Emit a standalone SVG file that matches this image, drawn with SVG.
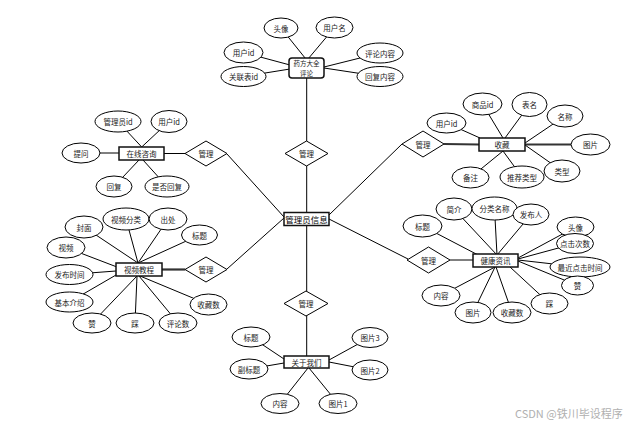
<svg xmlns="http://www.w3.org/2000/svg" width="636" height="427" viewBox="0 0 636 427">
<style>
.a{fill:#fff;stroke:#000;stroke-width:1}
.e{fill:#fff;stroke:#111;stroke-width:1.5}
.d{fill:#fff;stroke:#000;stroke-width:1}
.l{stroke:#000;stroke-width:1;fill:none}
.t{stroke:#333;stroke-width:2.2;fill:none}
text{font-family:"Noto Sans CJK SC","Noto Sans",sans-serif;font-size:7.5px;fill:#222;text-anchor:middle;dominant-baseline:central}
.big{font-size:8.5px;fill:#000}
.sm{font-size:6.5px}
.wm{font-size:11px;fill:#b0b0b0;text-anchor:start}
</style>
<rect width="636" height="427" fill="#fff"/>
<g id="connectors">
<line class="l" x1="306.7" y1="77" x2="306.7" y2="213"/>
<line class="l" x1="306.7" y1="225" x2="306.7" y2="356"/>
<line class="l" x1="227" y1="154" x2="284" y2="217"/>
<line class="l" x1="227" y1="269" x2="284" y2="218"/>
<line class="l" x1="329" y1="215" x2="402" y2="144"/>
<line class="l" x1="329" y1="219" x2="408" y2="259"/>
<line class="l" x1="281" y1="28" x2="306.7" y2="60"/>
<line class="l" x1="334.5" y1="27.5" x2="308" y2="59"/>
<line class="l" x1="243.5" y1="52.5" x2="290" y2="65"/>
<line class="l" x1="243.5" y1="76.5" x2="290" y2="69"/>
<line class="l" x1="380" y1="53" x2="324" y2="67"/>
<line class="l" x1="380" y1="76.5" x2="324" y2="68"/>
<line class="l" x1="164" y1="153.5" x2="185" y2="153.5"/>
<line class="l" x1="118" y1="121.5" x2="141.7" y2="147"/>
<line class="l" x1="169" y1="121.5" x2="141.7" y2="147"/>
<line class="l" x1="81" y1="153" x2="119" y2="153"/>
<line class="l" x1="114" y1="186.5" x2="139" y2="160"/>
<line class="l" x1="167" y1="186.5" x2="143" y2="160"/>
<line class="t" x1="444" y1="144" x2="479" y2="144.5"/>
<line class="l" x1="482.5" y1="104" x2="503" y2="138"/>
<line class="l" x1="529.5" y1="104.5" x2="505" y2="138"/>
<line class="l" x1="446.5" y1="123" x2="480" y2="138"/>
<line class="l" x1="565" y1="116" x2="525" y2="143"/>
<line class="t" x1="590.5" y1="144.5" x2="525" y2="144.5"/>
<line class="l" x1="562" y1="171" x2="525" y2="145"/>
<line class="l" x1="470.5" y1="177.5" x2="503" y2="151"/>
<line class="l" x1="522" y1="177" x2="503" y2="151"/>
<line class="t" x1="162" y1="269.5" x2="185" y2="269.5"/>
<line class="l" x1="84" y1="227" x2="138" y2="263"/>
<line class="l" x1="126" y1="219" x2="138" y2="263"/>
<line class="l" x1="168" y1="219" x2="138" y2="263"/>
<line class="l" x1="199.5" y1="235" x2="138" y2="263"/>
<line class="l" x1="66" y1="247.5" x2="117" y2="267"/>
<line class="l" x1="69.5" y1="274.5" x2="116" y2="271"/>
<line class="l" x1="69.5" y1="302" x2="116" y2="275"/>
<line class="l" x1="92" y1="323" x2="137" y2="276"/>
<line class="l" x1="135" y1="323" x2="137" y2="276"/>
<line class="l" x1="178" y1="323" x2="139" y2="276"/>
<line class="l" x1="208.5" y1="304.5" x2="140" y2="276"/>
<line class="l" x1="450" y1="260" x2="473" y2="260"/>
<line class="l" x1="454" y1="209" x2="497" y2="255"/>
<line class="l" x1="494.5" y1="208.5" x2="497" y2="255"/>
<line class="l" x1="531" y1="214.5" x2="497" y2="255"/>
<line class="l" x1="422.5" y1="226" x2="480" y2="256"/>
<line class="l" x1="575.5" y1="227" x2="518" y2="258"/>
<line class="l" x1="575" y1="243.5" x2="518" y2="259"/>
<line class="l" x1="580" y1="267" x2="518" y2="260"/>
<line class="l" x1="577.5" y1="285.5" x2="518" y2="261"/>
<line class="l" x1="549.5" y1="303.5" x2="510" y2="267"/>
<line class="l" x1="441" y1="295.5" x2="495" y2="267"/>
<line class="l" x1="473" y1="312.5" x2="495" y2="267"/>
<line class="l" x1="512" y1="312.5" x2="496" y2="267"/>
<line class="l" x1="251" y1="337" x2="284" y2="359"/>
<line class="l" x1="249" y1="369" x2="284" y2="363"/>
<line class="l" x1="370" y1="337.5" x2="329" y2="360"/>
<line class="l" x1="370" y1="370" x2="329" y2="362"/>
<line class="l" x1="280" y1="403.5" x2="308" y2="368"/>
<line class="l" x1="338" y1="403.5" x2="309" y2="368"/>
</g>

<g id="admin"><rect class="e" x="284" y="212.5" width="45" height="13"/><text class="big" x="306.5" y="219">管理员信息</text></g>

<g id="rel-comment"><polygon class="d" points="306.5,141 328,153.5 306.5,166 285,153.5"/><text x="306.5" y="153.5">管理</text></g>
<g id="rel-consult"><polygon class="d" points="206,141 227,153.5 206,166 185,153.5"/><text x="206" y="153.5">管理</text></g>
<g id="rel-collect"><polygon class="d" points="423,131 444,144 423,157 402,144"/><text x="423" y="144">管理</text></g>
<g id="rel-video"><polygon class="d" points="206,257 227,269.5 206,282 185,269.5"/><text x="206" y="269.5">管理</text></g>
<g id="rel-health"><polygon class="d" points="428.5,247 450,260 428.5,273 407,260"/><text x="428.5" y="260">管理</text></g>
<g id="rel-about"><polygon class="d" points="306,291 328,303.5 306,316 284,303.5"/><text x="306" y="303.5">管理</text></g>

<g id="comment">
<rect class="e" x="289" y="58" width="35" height="20" rx="3"/>
<text class="sm" x="306.5" y="63">药方大全</text><text class="sm" x="306.5" y="73">评论</text>
<ellipse class="a" cx="281" cy="28" rx="17" ry="10"/><text x="281" y="28">头像</text>
<ellipse class="a" cx="334.5" cy="27.5" rx="18.5" ry="10.5"/><text x="334.5" y="27.5">用户名</text>
<ellipse class="a" cx="243.5" cy="52.5" rx="19.5" ry="10.5"/><text x="243.5" y="52.5">用户id</text>
<ellipse class="a" cx="243.5" cy="76.5" rx="22.5" ry="10"/><text x="243.5" y="76.5">关联表id</text>
<ellipse class="a" cx="380" cy="53" rx="23" ry="10"/><text x="380" y="53">评论内容</text>
<ellipse class="a" cx="380" cy="76.5" rx="23" ry="10"/><text x="380" y="76.5">回复内容</text>
</g>

<g id="consult">
<rect class="e" x="119" y="147" width="45" height="13"/><text x="141.5" y="153.5">在线咨询</text>
<ellipse class="a" cx="118" cy="121.5" rx="23" ry="10.5"/><text x="118" y="121.5">管理员id</text>
<ellipse class="a" cx="169" cy="121.5" rx="18" ry="11"/><text x="169" y="121.5">用户id</text>
<ellipse class="a" cx="81" cy="153" rx="19" ry="10"/><text x="81" y="153">提问</text>
<ellipse class="a" cx="114" cy="186.5" rx="18" ry="10.5"/><text x="114" y="186.5">回复</text>
<ellipse class="a" cx="167" cy="186.5" rx="22" ry="10.5"/><text x="167" y="186.5">是否回复</text>
</g>

<g id="collect">
<rect class="e" x="479" y="138" width="46" height="13"/><text x="502" y="144.5">收藏</text>
<ellipse class="a" cx="482.5" cy="104" rx="19.5" ry="11"/><text x="482.5" y="104">商品id</text>
<ellipse class="a" cx="529.5" cy="104.5" rx="17.5" ry="12"/><text x="529.5" y="104.5">表名</text>
<ellipse class="a" cx="565" cy="116" rx="18" ry="11"/><text x="565" y="116">名称</text>
<ellipse class="a" cx="446.5" cy="123" rx="19.5" ry="10"/><text x="446.5" y="123">用户id</text>
<ellipse class="a" cx="590.5" cy="144.5" rx="19.5" ry="10.5"/><text x="590.5" y="144.5">图片</text>
<ellipse class="a" cx="562" cy="171" rx="18" ry="11"/><text x="562" y="171">类型</text>
<ellipse class="a" cx="470.5" cy="177.5" rx="18.5" ry="10.5"/><text x="470.5" y="177.5">备注</text>
<ellipse class="a" cx="522" cy="177" rx="22" ry="11"/><text x="522" y="177">推荐类型</text>
</g>

<g id="video">
<rect class="e" x="116" y="263" width="46" height="13"/><text x="139" y="269.5">视频教程</text>
<ellipse class="a" cx="84" cy="227" rx="19" ry="11"/><text x="84" y="227">封面</text>
<ellipse class="a" cx="126" cy="219" rx="23" ry="11"/><text x="126" y="219">视频分类</text>
<ellipse class="a" cx="168" cy="219" rx="19" ry="11"/><text x="168" y="219">出处</text>
<ellipse class="a" cx="199.5" cy="235" rx="18" ry="10"/><text x="199.5" y="235">标题</text>
<ellipse class="a" cx="66" cy="247.5" rx="19" ry="10.5"/><text x="66" y="247.5">视频</text>
<ellipse class="a" cx="69.5" cy="274.5" rx="23.5" ry="10"/><text x="69.5" y="274.5">发布时间</text>
<ellipse class="a" cx="69.5" cy="302" rx="23.5" ry="10"/><text x="69.5" y="302">基本介绍</text>
<ellipse class="a" cx="92" cy="323" rx="19" ry="10"/><text x="92" y="323">赞</text>
<ellipse class="a" cx="135" cy="323" rx="19" ry="10"/><text x="135" y="323">踩</text>
<ellipse class="a" cx="178" cy="323" rx="19" ry="10"/><text x="178" y="323">评论数</text>
<ellipse class="a" cx="208.5" cy="304.5" rx="18.5" ry="10.5"/><text x="208.5" y="304.5">收藏数</text>
</g>

<g id="health">
<rect class="e" x="473" y="254" width="45" height="13"/><text x="495.5" y="260.5">健康资讯</text>
<ellipse class="a" cx="454" cy="209" rx="18" ry="11"/><text x="454" y="209">简介</text>
<ellipse class="a" cx="494.5" cy="208.5" rx="22.5" ry="11.5"/><text x="494.5" y="208.5">分类名称</text>
<ellipse class="a" cx="531" cy="214.5" rx="18" ry="10.5"/><text x="531" y="214.5">发布人</text>
<ellipse class="a" cx="422.5" cy="226" rx="19.5" ry="11"/><text x="422.5" y="226">标题</text>
<ellipse class="a" cx="575.5" cy="227" rx="18.5" ry="10"/><text x="575.5" y="227">头像</text>
<ellipse class="a" cx="575" cy="243.5" rx="18.5" ry="10"/><text x="575" y="243.5">点击次数</text>
<ellipse class="a" cx="580" cy="267" rx="30" ry="10"/><text x="580" y="267">最近点击时间</text>
<ellipse class="a" cx="577.5" cy="285.5" rx="16" ry="9.5"/><text x="577.5" y="285.5">赞</text>
<ellipse class="a" cx="549.5" cy="303.5" rx="18.5" ry="10.5"/><text x="549.5" y="303.5">踩</text>
<ellipse class="a" cx="441" cy="295.5" rx="19" ry="10.5"/><text x="441" y="295.5">内容</text>
<ellipse class="a" cx="473" cy="312.5" rx="18" ry="10.5"/><text x="473" y="312.5">图片</text>
<ellipse class="a" cx="512" cy="312.5" rx="19" ry="10.5"/><text x="512" y="312.5">收藏数</text>
</g>

<g id="about">
<rect class="e" x="284" y="356" width="45" height="12"/><text x="306.5" y="362">关于我们</text>
<ellipse class="a" cx="251" cy="337" rx="19" ry="10"/><text x="251" y="337">标题</text>
<ellipse class="a" cx="249" cy="369" rx="19" ry="10"/><text x="249" y="369">副标题</text>
<ellipse class="a" cx="280" cy="403.5" rx="19" ry="10"/><text x="280" y="403.5">内容</text>
<ellipse class="a" cx="338" cy="403.5" rx="19" ry="10"/><text x="338" y="403.5">图片1</text>
<ellipse class="a" cx="370" cy="337.5" rx="18" ry="10"/><text x="370" y="337.5">图片3</text>
<ellipse class="a" cx="370" cy="370" rx="18" ry="10"/><text x="370" y="370">图片2</text>
</g>

<text class="wm" x="515" y="413">CSDN @铁川毕设程序</text>
</svg>
